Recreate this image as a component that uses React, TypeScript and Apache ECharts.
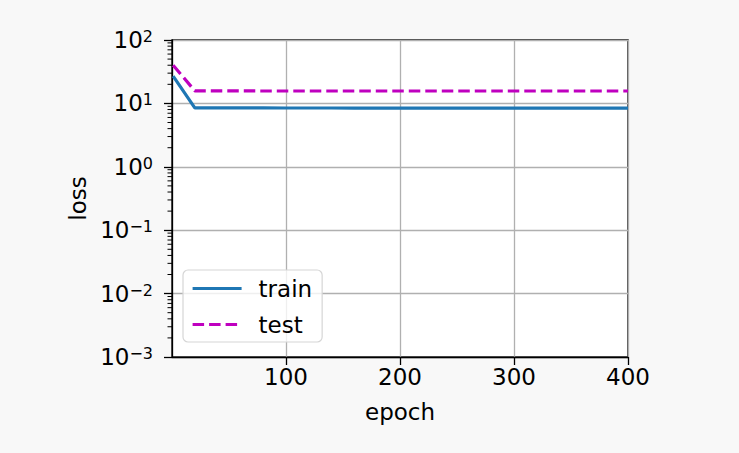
import React, { useEffect, useRef } from "react";
import * as echarts from "echarts";

const epochs = [1, 20, 40, 60, 80, 100, 120, 140, 160, 180, 200, 220, 240, 260, 280, 300, 320, 340, 360, 380, 400];
const trainLoss = [27, 8.5, 8.48, 8.47, 8.47, 8.46, 8.46, 8.46, 8.45, 8.45, 8.45, 8.45, 8.45, 8.45, 8.45, 8.45, 8.45, 8.45, 8.45, 8.45, 8.45];
const testLoss = [40, 15.8, 15.75, 15.72, 15.7, 15.7, 15.7, 15.69, 15.69, 15.69, 15.68, 15.68, 15.68, 15.68, 15.68, 15.68, 15.68, 15.68, 15.68, 15.68, 15.68];
const xTicks = [100, 200, 300, 400];
const yDecades = [0.001, 0.01, 0.1, 1, 10, 100];
const minorMultipliers = [2, 3, 4, 5, 6, 7, 8, 9];

const FONT = "DejaVu Sans";
const FS = 23;
const DASH = [11.5, 5];

export default function App() {
  const ref = useRef<HTMLDivElement>(null);
  useEffect(() => {
    if (!ref.current) return;
    const chart = echarts.init(ref.current, undefined, { renderer: "svg" });
    const minorVals: number[][] = [];
    for (let i = 0; i < yDecades.length - 1; i++) {
      for (const m of minorMultipliers) minorVals.push([0, yDecades[i] * m]);
    }
    const supMap: Record<string, string> = { "-3": "−3", "-2": "−2", "-1": "−1", "0": "0", "1": "1", "2": "2" };
    chart.setOption({
      animation: false,
      backgroundColor: "#f8f8f8",
      textStyle: { fontFamily: FONT },
      grid: {
        left: 172,
        right: 111,
        top: 40,
        bottom: 96,
        show: true,
        backgroundColor: "#ffffff",
        borderColor: "#000000",
        borderWidth: 1.3,
      },
      legend: {
        data: [
          { name: "train", lineStyle: { color: "#1f77b4", width: 3.2, type: "solid" } },
          { name: "test", lineStyle: { color: "#bf00bf", width: 3.2, type: DASH } },
        ],
        orient: "vertical",
        left: 183,
        top: 270,
        itemWidth: 49,
        itemHeight: 18,
        itemGap: 13,
        padding: [7, 10, 6, 8],
        backgroundColor: "rgba(255,255,255,0.8)",
        borderColor: "#d6d6d6",
        borderWidth: 1.2,
        borderRadius: 5,
        itemStyle: { opacity: 0 },
        textStyle: { fontFamily: FONT, fontSize: FS, color: "#000", padding: [0, 0, 0, 12] },
      },
      xAxis: {
        type: "value",
        min: 0,
        max: 400,
        interval: 100,
        name: "epoch",
        nameLocation: "middle",
        nameGap: 43,
        nameTextStyle: { fontFamily: FONT, fontSize: FS, color: "#000" },
        axisLine: { show: true, lineStyle: { color: "#000", width: 1.3 } },
        axisTick: { show: true, length: 8, lineStyle: { color: "#000", width: 1.3 }, customValues: xTicks },
        axisLabel: {
          fontFamily: FONT,
          fontSize: FS,
          color: "#000",
          margin: 8,
          formatter: (v: number) => (v === 0 ? "" : String(v)),
        },
        splitLine: { show: true, lineStyle: { color: "#b0b0b0", width: 1.3 } },
      },
      yAxis: {
        type: "log",
        logBase: 10,
        min: 0.001,
        max: 100,
        name: "loss",
        nameLocation: "middle",
        nameGap: 82,
        nameTextStyle: { fontFamily: FONT, fontSize: FS, color: "#000" },
        axisLine: { show: true, lineStyle: { color: "#000", width: 1.3 } },
        axisTick: { show: true, length: 8, lineStyle: { color: "#000", width: 1.3 } },
        axisLabel: {
          margin: 19,
          formatter: (v: number) => {
            const e = String(Math.round(Math.log10(v)));
            return `{b|10}{s|${supMap[e] ?? e}}`;
          },
          rich: {
            b: { fontFamily: FONT, fontSize: FS, color: "#000", lineHeight: 23 },
            s: { fontFamily: FONT, fontSize: 16, color: "#000", verticalAlign: "top", lineHeight: 12 },
          },
        },
        splitLine: { show: true, lineStyle: { color: "#b0b0b0", width: 1.3 } },
      },
      series: [
        {
          name: "train",
          type: "line",
          data: epochs.map((e, i) => [e, trainLoss[i]]),
          symbol: "none",
          lineStyle: { color: "#1f77b4", width: 3.2 },
          itemStyle: { color: "#1f77b4" },
        },
        {
          name: "test",
          type: "line",
          data: epochs.map((e, i) => [e, testLoss[i]]),
          symbol: "none",
          lineStyle: { color: "#bf00bf", width: 3.2, type: DASH },
          itemStyle: { color: "#bf00bf" },
        },
        {
          name: "minorTicks",
          type: "custom",
          silent: true,
          clip: false,
          data: minorVals,
          renderItem: (params: any, api: any) => {
            const pt = api.coord([0, api.value(1)]);
            const x0 = (params.coordSys as any).x;
            return {
              type: "line",
              shape: { x1: x0 - 4.5, y1: pt[1], x2: x0, y2: pt[1] },
              style: { stroke: "#000", lineWidth: 1 },
            };
          },
        },
      ],
    });
    return () => chart.dispose();
  }, []);
  return (
    <div
      ref={ref}
      style={{ position: "fixed", left: 0, top: 0, width: 739, height: 453 }}
    />
  );
}
